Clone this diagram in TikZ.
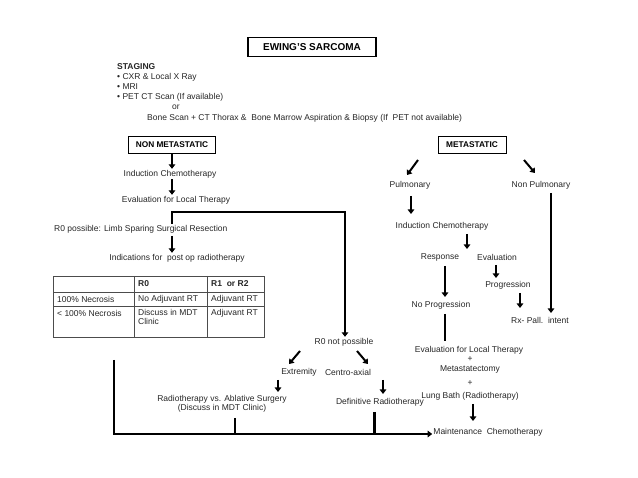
\documentclass[tikz,border=0pt]{standalone}
\usepackage{fontspec}
\setmainfont{Liberation Sans}
\usetikzlibrary{arrows.meta}
\begin{document}
\begin{tikzpicture}[x=1pt,y=-1pt,
  t/.style={font=\fontsize{8.5}{9.5}\selectfont,inner sep=1pt,text=black!85},
  ar/.style={line width=2pt,-{Triangle[width=6.5pt,length=4.5pt]}},
  ln/.style={line width=2pt},
  bx/.style={draw,line width=1pt,font=\fontsize{8.3}{9}\selectfont\bfseries,inner sep=2pt,minimum height=17pt}]
\useasboundingbox (0,0) rectangle (638,478);
\node[draw,line width=1.2pt,font=\fontsize{10}{11}\selectfont\bfseries,minimum width=128pt,minimum height=19pt] (title) at (312,47) {EWING'S SARCOMA};
\node[t,anchor=west,font=\fontsize{8.5}{9.5}\selectfont\bfseries] (stg) at (116,67) {STAGING};
\node[t,anchor=west] (b1) at (116,77) {• CXR \& Local X Ray};
\node[t,anchor=west] (b2) at (116,87) {• MRI};
\node[t,anchor=west] (b3) at (116,97) {• PET CT Scan (If available)};
\node[t] (or) at (176,107) {or};
\node[t,anchor=west] (b4) at (146,118) {Bone Scan + CT Thorax \&\ \ Bone Marrow Aspiration \& Biopsy (If\ \ PET not available)};
\node[bx,minimum width=87pt] (nm) at (172,145) {NON METASTATIC};
\node[t] (ic) at (170,174) {Induction Chemotherapy};
\node[t] (ev) at (176,200) {Evaluation for Local Therapy};
\node[t,anchor=west] (r0) at (53,229) {R0 possible: Limb Sparing Surgical Resection};
\node[t] (ind) at (177,258) {Indications for\ \ post op radiotherapy};
\draw[ar] (nm.south -| 172,0) -- (ic.north -| 172,0);
\draw[ar] (ic.south -| 172,0) -- (ev.north -| 172,0);
\draw[ar] (172,236) -- (ind.north -| 172,0);
% table
\draw[line width=0.6pt,black!70] (53,276) rectangle (264,337);
\foreach \y in {292,306} \draw[line width=0.6pt,black!70] (53,\y) -- (264,\y);
\foreach \x in {134,207} \draw[line width=0.6pt,black!70] (\x,276) -- (\x,337);
\node[t,anchor=west,font=\fontsize{8.5}{9.5}\selectfont\bfseries] (h1) at (137,284) {R0};
\node[t,anchor=west,font=\fontsize{8.5}{9.5}\selectfont\bfseries] (h2) at (210,284) {R1\ \ or R2};
\node[t,anchor=west] (c1) at (56,299) {100\% Necrosis};
\node[t,anchor=west] (c2) at (137,299) {No Adjuvant RT};
\node[t,anchor=west] (c3) at (210,299) {Adjuvant RT};
\node[t,anchor=west] (c4) at (56,313) {< 100\% Necrosis};
\node[t,anchor=north west,align=left] (c5) at (137,308) {Discuss in MDT\\Clinic};
\node[t,anchor=west] (c6) at (210,313) {Adjuvant RT};
% R0 not possible
\node[t] (r0n) at (344,342) {R0 not possible};
\draw[ar] (172,224) -- (172,212) -- (345,212) -- (r0n.north -| 345,0);
\node[t] (ext) at (299,372) {Extremity};
\node[t] (ca) at (348,372) {Centro-axial};
\draw[ar] (300,351) -- (289,364);
\draw[ar] (357,351) -- (368,364);
\node[t,align=center] (rad) at (222,404) {Radiotherapy vs. Ablative Surgery\\(Discuss in MDT Clinic)};
\node[t] (def) at (380,402) {Definitive Radiotherapy};
\draw[ar] (278,380) -- (278,392);
\draw[ar] (383,380) -- (383,394);
\node[t] (mc) at (488,432) {Maintenance\ \ Chemotherapy};
\draw[ar] (114,360) -- (114,434) -- (mc.west |- 0,434);
\draw[line width=1.5pt] (235,418) -- (235,434);
\draw[line width=3pt] (374,412) -- (374,434);
% metastatic
\node[bx,minimum width=68pt] (met) at (472,145) {METASTATIC};
\node[t] (pul) at (410,185) {Pulmonary};
\node[t] (npul) at (541,185) {Non Pulmonary};
\draw[ar] (418,160) -- (407,175);
\draw[ar] (524,160) -- (535,173);
\node[t] (ic2) at (442,226) {Induction Chemotherapy};
\draw[ar] (411,196) -- (411,214);
\node[t] (resp) at (440,257) {Response};
\node[t] (eval) at (497,257) {Evaluation};
\draw[ar] (467,234) -- (467,249);
\node[t] (prog) at (508,285) {Progression};
\draw[ar] (496,265) -- (496,278);
\node[t] (rx) at (540,320) {Rx- Pall.\ \ intent};
\draw[ar] (520,293) -- (520,308);
\draw[ar] (551,193) -- (551,313);
\node[t] (np) at (441,305) {No Progression};
\draw[ar] (445,266) -- (445,297);
\node[t] (elt) at (469,350) {Evaluation for Local Therapy};
\draw[ln] (445,314) -- (445,341);
\node[t] (p1) at (470,359) {+};
\node[t] (mt) at (470,369) {Metastatectomy};
\node[t] (p2) at (470,383) {+};
\node[t] (lb) at (470,396) {Lung Bath (Radiotherapy)};
\draw[ar] (473,404) -- (473,421);
\end{tikzpicture}
\end{document}
